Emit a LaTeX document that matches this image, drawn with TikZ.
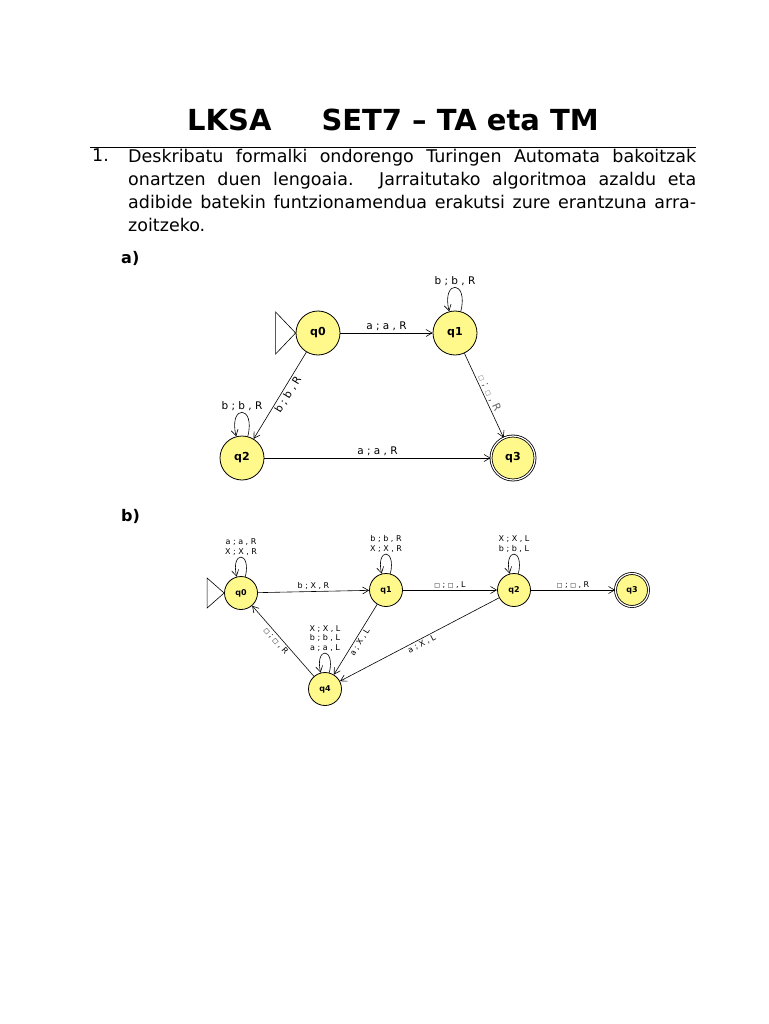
\documentclass[tikz,border=0pt]{standalone}
\usepackage{fontspec}
\setmainfont{DejaVu Sans}
\usetikzlibrary{arrows.meta}
\newcommand{\blk}{{\fontsize{6}{6}\selectfont □}}
\begin{document}
\begin{tikzpicture}[x=1pt,y=-1pt,
  st/.style={circle,draw=black,fill=yellow!45,thick,inner sep=0pt,font=\bfseries\fontsize{11}{12}\selectfont},
  sa/.style={st,minimum size=44pt},
  sb/.style={st,minimum size=33pt,font=\bfseries\fontsize{8}{9}\selectfont},
  acc/.style={double,double distance=1.2pt},
  tr/.style={-{Straight Barb[length=6pt,width=7pt]},semithick},
  la/.style={font=\fontsize{10.5}{11}\selectfont,inner sep=1.5pt},
  lb/.style={font=\fontsize{8}{9.5}\selectfont,inner sep=1.5pt,align=center},
  tri/.style={draw,semithick,fill=white}]
\useasboundingbox (0,0) rectangle (768,1024);
\fill[white] (0,0) rectangle (768,1024);
\node[font=\bfseries\fontsize{29}{32}\selectfont] (title) at (393,120) {LKSA\hspace{50pt}SET7 – TA eta TM};
\draw[thin] (90,147) coordinate (l1) -- (696,147) coordinate (l2);
\node[anchor=north west,inner sep=0pt,font=\fontsize{17.5}{23}\selectfont] (num) at (92,149) {1.};
\node[anchor=north west,inner sep=0pt,text width=568pt,align=justify,font=\fontsize{17.5}{23}\selectfont] (body) at (128,149) {Deskribatu formalki ondorengo Turingen Automata bakoitzak onartzen duen lengoaia. Jarraitutako algoritmoa azaldu eta adibide batekin funtzionamendua erakutsi zure erantzuna arrazoitzeko.};
\node[anchor=west,inner sep=0pt,font=\bfseries\fontsize{16}{18}\selectfont] (pa) at (121,258) {a)};
\node[anchor=west,inner sep=0pt,font=\bfseries\fontsize{16}{18}\selectfont] (pb) at (121,516) {b)};
% a)
\node[sa] (a0) at (318,333) {q0};
\node[sa] (a1) at (455,333) {q1};
\node[sa] (a2) at (242,458) {q2};
\node[sa,acc] (a3) at (513,458) {q3};
\draw[tri] (a0.west) -- ++(-20,-21) -- ++(0,42) -- cycle;
\draw[tr] (a0) -- node[la,above]{a ; a , R} (a1);
\draw[tr] (a0) -- node[la,below,sloped,pos=0.45]{b ; b , R} (a2);
\draw[tr] (a1) -- node[la,above,sloped,text=black!60]{\blk{} ; \blk{} , R} (a3);
\draw[tr] (a2) -- node[la,above]{a ; a , R} (a3);
\draw[tr] (a1.75) .. controls +(8,-32) and +(-8,-32) .. node[la,above]{b ; b , R} (a1.105);
\draw[tr] (a2.75) .. controls +(8,-32) and +(-8,-32) .. node[la,above]{b ; b , R} (a2.105);
% b)
\node[sb] (b0) at (241,593) {q0};
\node[sb] (b1) at (386,590) {q1};
\node[sb] (b2) at (514,590) {q2};
\node[sb,acc] (b3) at (632,590) {q3};
\node[sb] (b4) at (325,689) {q4};
\draw[tri] (b0.west) -- ++(-17,-15) -- ++(0,30) -- cycle;
\draw[tr] (b0) -- node[lb,above]{b ; X , R} (b1);
\draw[tr] (b1) -- node[lb,above]{\blk{} ; \blk{} , L} (b2);
\draw[tr] (b2) -- node[lb,above]{\blk{} ; \blk{} , R} (b3);
\draw[tr] (b1) -- node[lb,below,sloped,pos=0.5]{a ; X , L} (b4);
\draw[tr] (b2) -- node[lb,below,sloped]{a ; X , L} (b4);
\draw[tr] (b4) -- node[lb,below,sloped,pos=0.55]{\blk{} ; \blk{} , R} (b0);
\draw[tr] (b0.75) .. controls +(6,-26) and +(-6,-26) .. node[lb,above]{a ; a , R\\X ; X , R} (b0.105);
\draw[tr] (b1.75) .. controls +(6,-26) and +(-6,-26) .. node[lb,above]{b ; b , R\\X ; X , R} (b1.105);
\draw[tr] (b2.75) .. controls +(6,-26) and +(-6,-26) .. node[lb,above]{X ; X , L\\b ; b , L} (b2.105);
\draw[tr] (b4.75) .. controls +(6,-26) and +(-6,-26) .. node[lb,above]{X ; X , L\\b ; b , L\\a ; a , L} (b4.105);
\end{tikzpicture}
\end{document}
